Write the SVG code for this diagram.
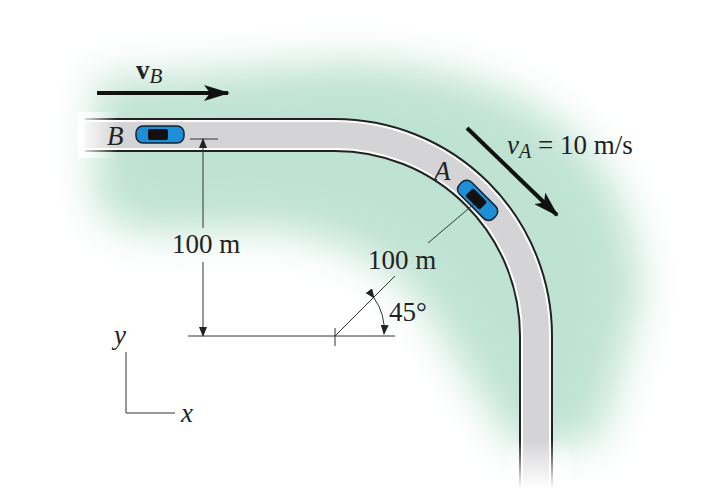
<svg xmlns="http://www.w3.org/2000/svg" width="702" height="488" viewBox="0 0 702 488">
<defs>
<style>
.t{font-family:"Liberation Serif",serif;font-size:27px;fill:#222}
.thin{stroke:#333;stroke-width:1;fill:none}
</style>
<marker id="ah" markerWidth="10" markerHeight="8" refX="9" refY="4" orient="auto" markerUnits="userSpaceOnUse"><path d="M0,0L10,4L0,8z" fill="#222"/></marker>
<marker id="big" markerWidth="26" markerHeight="16" refX="24" refY="8" orient="auto" markerUnits="userSpaceOnUse"><path d="M0,0L26,8L0,16L6,8z" fill="#111"/></marker>
<filter id="blur" x="-30%" y="-30%" width="160%" height="160%"><feGaussianBlur stdDeviation="20"/></filter>
<radialGradient id="tr"><stop offset="0" stop-color="#9fd8f0"/><stop offset="1" stop-color="#9fd8f0" stop-opacity="0"/></radialGradient>
<linearGradient id="fadeL" x1="0" x2="1"><stop offset="0" stop-color="#fff"/><stop offset="1" stop-color="#fff" stop-opacity="0"/></linearGradient>
<linearGradient id="fadeB" x1="0" y1="0" x2="0" y2="1"><stop offset="0" stop-color="#fff" stop-opacity="0"/><stop offset="1" stop-color="#fff"/></linearGradient>
</defs>
<rect width="702" height="488" fill="#fff"/>
<g id="ground">
<path d="M95,80 L340,62 C500,62 640,130 640,300 L600,440 L520,450 C470,390 440,320 400,280 C340,230 260,225 200,232 C130,238 100,220 95,200 Z" fill="#bfe3d3" filter="url(#blur)"/>
</g>
<g id="road">
<path d="M85,135 H335 A201,201 0 0 1 536,336 V488" fill="none" stroke="#222" stroke-width="34"/>
<path d="M85,135 H335 A201,201 0 0 1 536,336 V488" fill="none" stroke="#fff" stroke-width="30"/>
<path d="M85,135 H335 A201,201 0 0 1 536,336 V488" fill="none" stroke="#d4d4d6" stroke-width="26"/>
<rect x="78" y="112" width="40" height="46" fill="url(#fadeL)"/>
<rect x="510" y="440" width="60" height="48" fill="url(#fadeB)"/>
</g>
<g id="carB">
<path d="M92,134 H140" stroke="url(#tr)" stroke-width="14"/>
<rect x="136" y="126" width="48" height="17" rx="7" fill="#1e8ed6" stroke="#123" stroke-width="1.5"/>
<rect x="148" y="129" width="20" height="11" rx="2" fill="#111"/>
<text class="t" x="107" y="145" font-style="italic">B</text>
</g>
<g id="carA">
<g transform="translate(478,200) rotate(45)">
<rect x="-24" y="-8" width="48" height="17" rx="7" fill="#1e8ed6" stroke="#123" stroke-width="1.5"/>
<rect x="-12" y="-5" width="20" height="11" rx="2" fill="#111"/>
</g>
<text class="t" x="434" y="180" font-style="italic">A</text>
</g>
<g id="connectors">
<line x1="97" y1="93" x2="228" y2="93" stroke="#111" stroke-width="4" marker-end="url(#big)"/>
<line x1="467" y1="128" x2="557" y2="215" stroke="#111" stroke-width="4" marker-end="url(#big)"/>
<line class="thin" x1="190" y1="139" x2="218" y2="139"/>
<line class="thin" x1="203" y1="228" x2="203" y2="139" marker-end="url(#ah)"/>
<line class="thin" x1="203" y1="262" x2="203" y2="336" marker-end="url(#ah)"/>
<line class="thin" x1="188" y1="336" x2="395" y2="336"/>
<line class="thin" x1="335" y1="328" x2="335" y2="346"/>
<line class="thin" x1="335" y1="336" x2="395" y2="276"/>
<line class="thin" x1="428" y1="243" x2="474" y2="204"/>
<path class="thin" d="M374,298 A55,55 0 0 1 384,334" marker-start="url(#ah)" marker-end="url(#ah)"/>
<path class="thin" d="M126,352 V413 H175"/>
</g>
<g id="labels">
<text class="t" x="136" y="79" font-weight="bold" font-size="26">v<tspan font-style="italic" font-weight="normal" font-size="21" dy="4">B</tspan></text>
<text class="t" x="507" y="154" font-style="italic">v<tspan font-size="20" dy="4">A</tspan><tspan font-style="normal" dy="-4"> = 10 m/s</tspan></text>
<text class="t" x="172" y="253">100 m</text>
<text class="t" x="368" y="269">100 m</text>
<text class="t" x="389" y="321">45°</text>
<text class="t" x="114" y="344" font-style="italic">y</text>
<text class="t" x="181" y="422" font-style="italic">x</text>
</g>
</svg>
